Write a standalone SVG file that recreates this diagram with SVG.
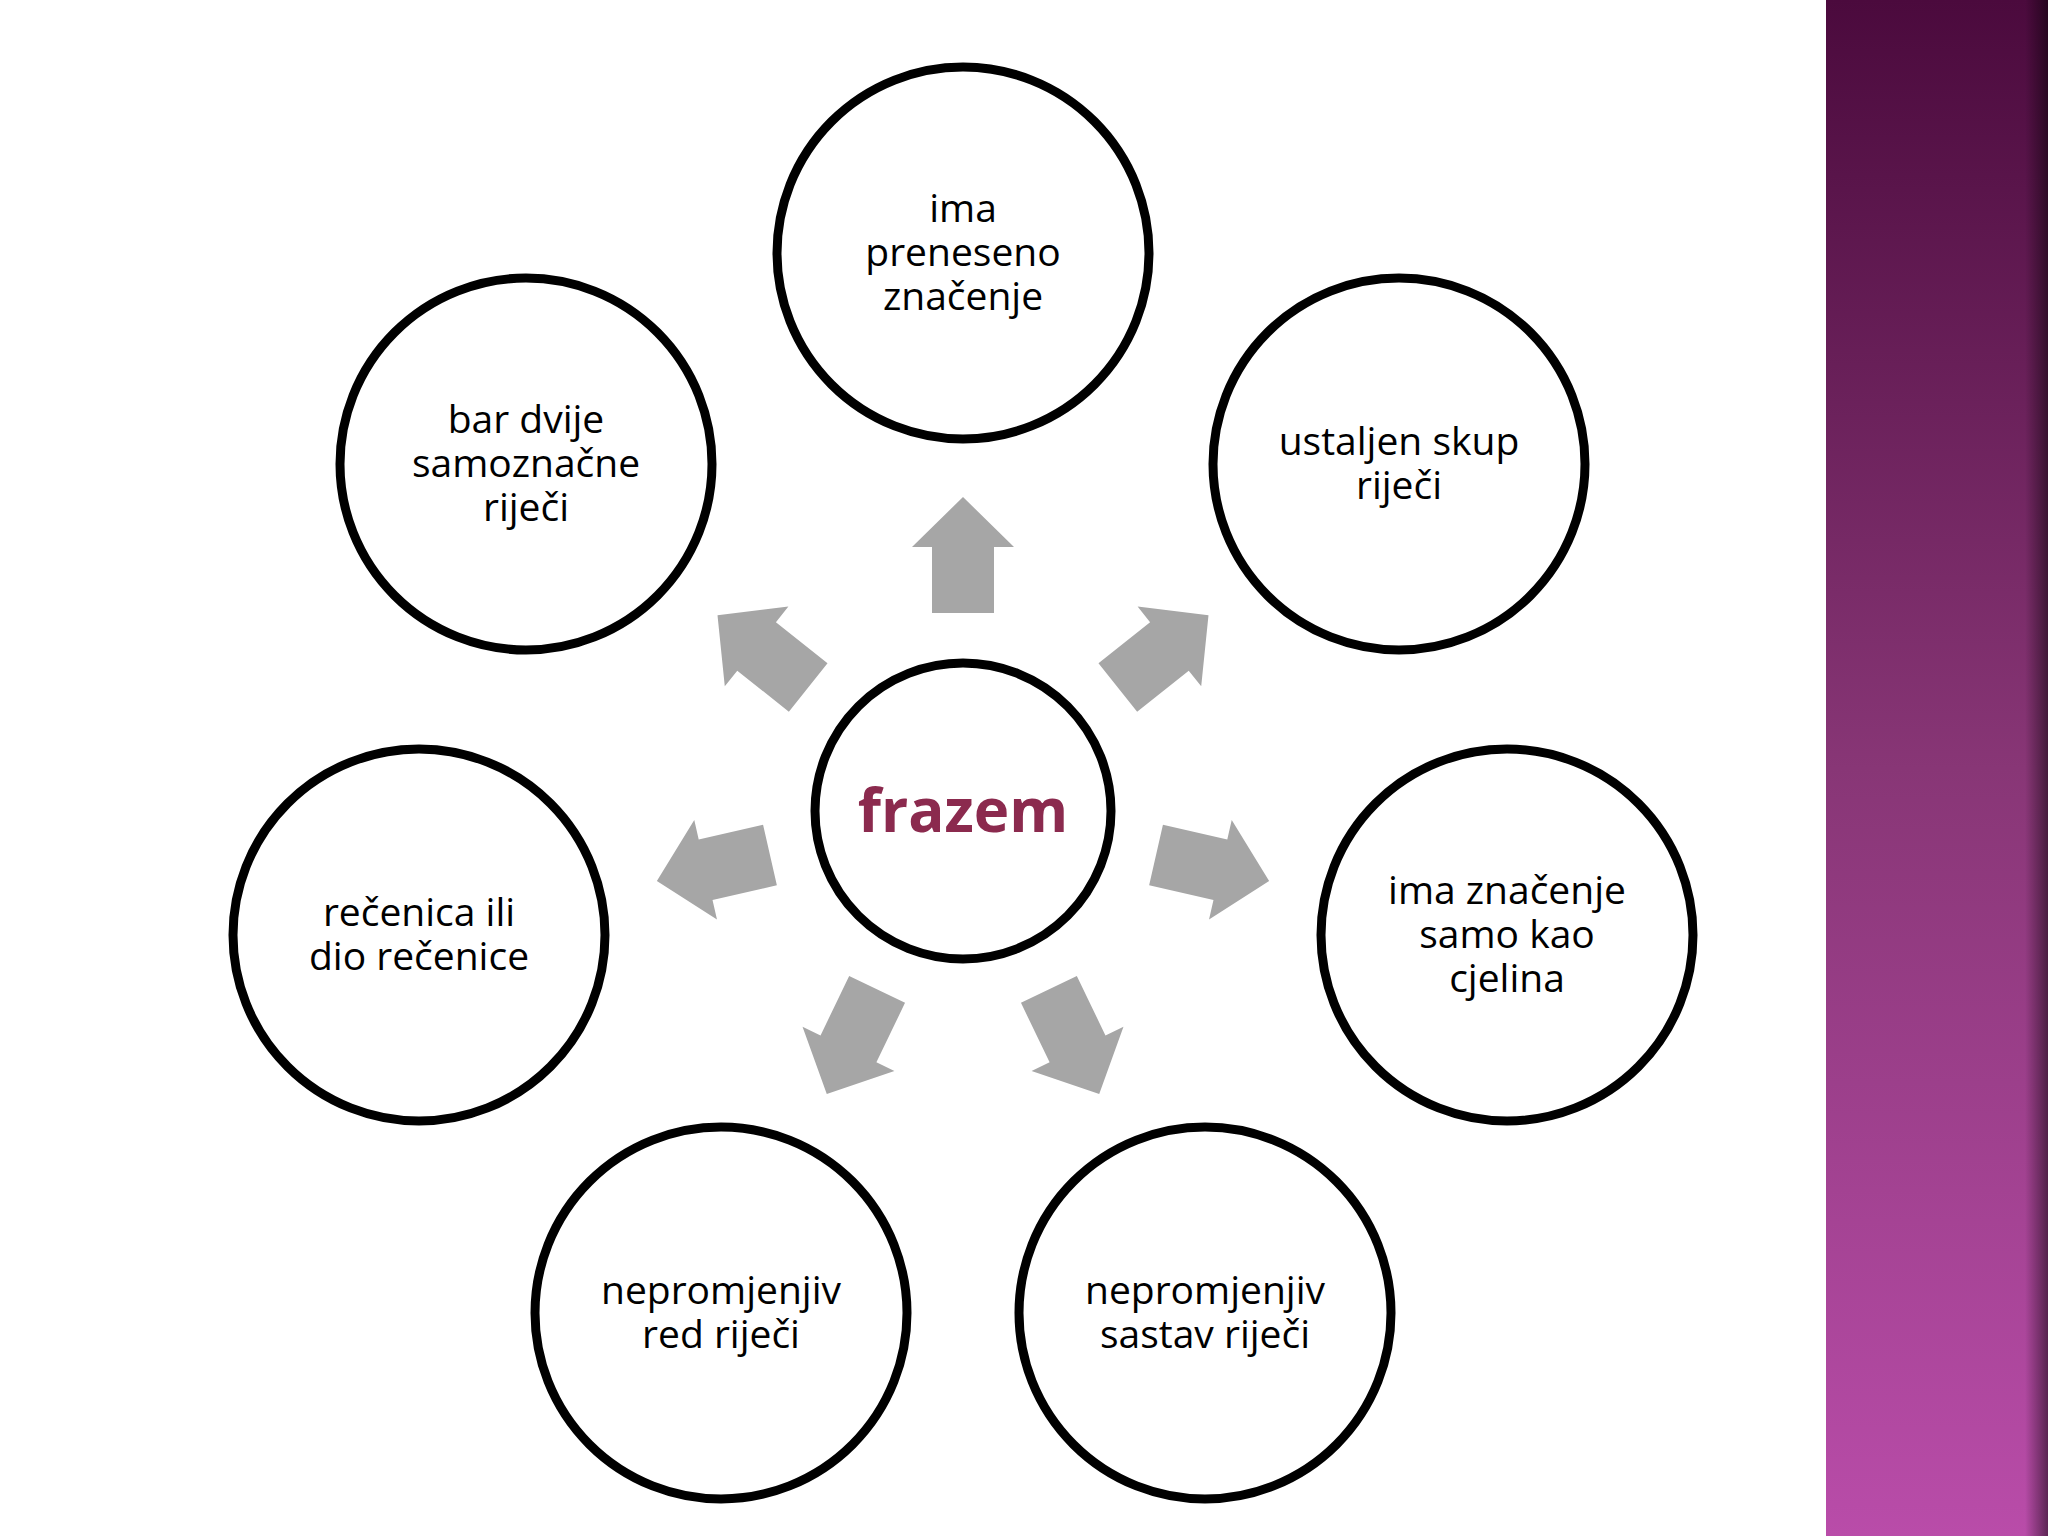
<svg xmlns="http://www.w3.org/2000/svg" width="2048" height="1536" viewBox="0 0 2048 1536">
<defs>
<linearGradient id="g" x1="0" y1="0" x2="0" y2="1"><stop offset="0" stop-color="#4b0a3d"/><stop offset="0.5" stop-color="#883676"/><stop offset="1" stop-color="#b94ca9"/></linearGradient>
<linearGradient id="e" x1="0" y1="0" x2="1" y2="0"><stop offset="0" stop-color="#000" stop-opacity="0"/><stop offset="1" stop-color="#000" stop-opacity="0.5"/></linearGradient>
<polygon id="arr" points="-31,-198 -31,-264 -51,-264 0,-314 51,-264 31,-264 31,-198" fill="#a6a6a6"/>
</defs>
<style>
.c{fill:#fff;stroke:#000;stroke-width:9}
.t{font-family:"Open Sans","DejaVu Sans",sans-serif;font-size:39px;fill:#000;text-anchor:middle}
.f{font-family:"Open Sans","DejaVu Sans",sans-serif;font-size:60px;font-weight:bold;fill:#8b2a4e;text-anchor:middle}
</style>
<rect width="2048" height="1536" fill="#fff"/>
<rect x="1826" y="0" width="222" height="1536" fill="url(#g)"/>
<rect x="2025" y="0" width="23" height="1536" fill="url(#e)"/>
<g id="connectors" transform="translate(963,811)">
<use href="#arr"/>
<use href="#arr" transform="rotate(51.43)"/>
<use href="#arr" transform="rotate(102.86)"/>
<use href="#arr" transform="rotate(154.29)"/>
<use href="#arr" transform="rotate(-51.43)"/>
<use href="#arr" transform="rotate(-102.86)"/>
<use href="#arr" transform="rotate(-154.29)"/>
</g>
<g id="center"><circle class="c" cx="963" cy="811" r="148"/><text class="f" x="963" y="832">frazem</text></g>
<g id="n1"><circle class="c" cx="963" cy="253" r="186"/><text class="t" x="963" y="222">ima</text><text class="t" x="963" y="266">preneseno</text><text class="t" x="963" y="310">značenje</text></g>
<g id="n2"><circle class="c" cx="1399" cy="464" r="186"/><text class="t" x="1399" y="455">ustaljen skup</text><text class="t" x="1399" y="499">riječi</text></g>
<g id="n3"><circle class="c" cx="1507" cy="935" r="186"/><text class="t" x="1507" y="904">ima značenje</text><text class="t" x="1507" y="948">samo kao</text><text class="t" x="1507" y="992">cjelina</text></g>
<g id="n4"><circle class="c" cx="1205" cy="1313" r="186"/><text class="t" x="1205" y="1304">nepromjenjiv</text><text class="t" x="1205" y="1348">sastav riječi</text></g>
<g id="n5"><circle class="c" cx="721" cy="1313" r="186"/><text class="t" x="721" y="1304">nepromjenjiv</text><text class="t" x="721" y="1348">red riječi</text></g>
<g id="n6"><circle class="c" cx="419" cy="935" r="186"/><text class="t" x="419" y="926">rečenica ili</text><text class="t" x="419" y="970">dio rečenice</text></g>
<g id="n7"><circle class="c" cx="526" cy="464" r="186"/><text class="t" x="526" y="433">bar dvije</text><text class="t" x="526" y="477">samoznačne</text><text class="t" x="526" y="521">riječi</text></g>
</svg>
